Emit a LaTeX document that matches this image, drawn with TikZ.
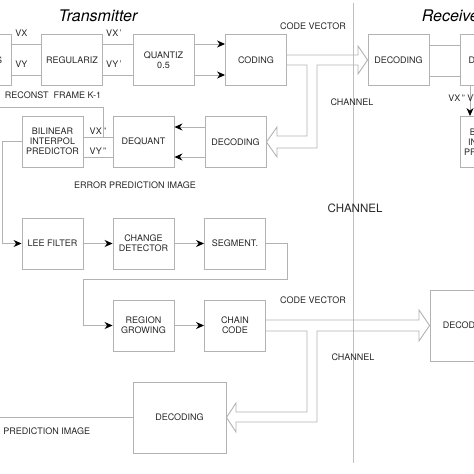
\documentclass[tikz,border=0pt]{standalone}
\usepackage{fontspec}
\setmainfont{TeX Gyre Heros}
\usetikzlibrary{arrows.meta}

\begin{document}
\begin{tikzpicture}[x=1pt,y=-1pt,line width=0.9pt,
  blk/.style={draw=black!30,minimum width=61pt,minimum height=51pt,inner sep=1pt,align=center,font=\fontsize{9}{10}\selectfont,text=black!85},
  bigblk/.style={blk,minimum width=93pt,minimum height=71pt},
  lbl/.style={font=\fontsize{9}{10}\selectfont,text=black!85,inner sep=0pt},
  wire/.style={draw=black!30},
  arr/.style={wire,-{Stealth[length=8pt,width=7pt,color=black]}}]
  \useasboundingbox (0,0) rectangle (474,474);
  % titulos y canal
  \node[font=\fontsize{16}{18}\selectfont\itshape] (ttx) at (98,16) {Transmitter};
  \node[font=\fontsize{16}{18}\selectfont\itshape,anchor=west] (trx) at (418,16) {Receiver};
  \draw[black!25,line width=0.7pt] (353,3) -- (353,463);
  \node[font=\fontsize{11.5}{13}\selectfont,text=black!85] (chan) at (355,208) {CHANNEL};
  % bloques del transmisor
  \node[blk] (vec) at (-19.5,60) {VECTORS};
  \node[blk] (reg) at (72,60) {REGULARIZ};
  \node[blk] (quant) at (163.5,60) {QUANTIZ\\0.5};
  \node[blk] (cod) at (256,60) {CODING};
  \node[blk] (bil) at (52.5,141.5) {BILINEAR\\INTERPOL\\PREDICTOR};
  \node[blk] (deq) at (143.5,141.5) {DEQUANT};
  \node[blk] (tdec) at (235.5,142) {DECODING};
  \node[blk] (lee) at (52.5,243.5) {LEE FILTER};
  \node[blk] (chg) at (143.5,243.5) {CHANGE\\DETECTOR};
  \node[blk] (seg) at (235,243.5) {SEGMENT.};
  \node[blk] (rgn) at (143.5,325.5) {REGION\\GROWING};
  \node[blk] (chn) at (235,325.5) {CHAIN\\CODE};
  \node[bigblk] (bdec) at (179.5,417.5) {DECODING};
  % bloques del receptor
  \node[blk] (rdec) at (398.5,60) {DECODING};
  \node[blk] (rdeq) at (490.5,60) {DEQUANT};
  \node[blk] (rbil) at (490.5,142) {BILINEAR\\INTERPOL\\PREDICTOR};
  \node[bigblk,minimum width=74pt] (rdec2) at (467,325.5) {DECODING};
  % vectores VX, VY
  \foreach \y/\a/\b in {44/VX/VX\,',75/VY/VY\,'} {
    \draw[wire] (vec.east |- 0,\y) -- (reg.west |- 0,\y);
    \draw[wire] (reg.east |- 0,\y) -- (quant.west |- 0,\y);
    \draw[arr] (quant.east |- 0,\y) -- (cod.west |- 0,\y);
    \draw[wire] (rdec.east |- 0,\y+1) -- (rdeq.west |- 0,\y+1);
    \node[lbl] at (21.5,\y-11) {\a};
    \node[lbl] at (114,\y-11) {\b};
  }
  \foreach \y/\a in {137/VX\,'',157/VY\,''}
    \draw[wire] (deq.west |- 0,\y) -- node[lbl,above=2pt] {\a} (bil.east |- 0,\y);
  \foreach \y in {127,157} \draw[arr] (tdec.west |- 0,\y) -- (deq.east |- 0,\y);
  \draw[arr] (rdeq.south -| 470,0) -- (rbil.north -| 470,0);
  \node[lbl] at (456.5,98) {VX\,''};
  \node[lbl,anchor=west] at (467,98) {VY\,''};
  % cuadro anterior
  \coordinate (kin) at (-10,107);
  \draw[wire] (kin) -- (103,107) -- (103,137);
  \node[lbl] at (53,95) {RECONST\ \ FRAME K-1};
  % prediccion y segmentacion
  \draw[arr] (bil.west) -- (2,141.5) -- (2,243.5) -- (lee.west);
  \node[lbl] at (135,185) {ERROR PREDICTION IMAGE};
  \draw[arr] (lee) -- (chg);
  \draw[arr] (chg) -- (seg);
  \draw[arr] (seg.east) -- (287,243.5) -- (287,279) -- (83,279) -- (83,325.5) -- (rgn.west);
  \draw[arr] (rgn) -- (chn);
  % flechas huecas del canal
  \draw[wire] (cod.east |- 0,55) -- (358,55) -- (358,46) -- (rdec.west) -- (358,74) -- (358,65)
    -- (317,65) -- (317,148) -- (277,148) -- (277,157) -- (tdec.east) -- (277,127) -- (277,136)
    -- (307,136) -- (307,65) -- (cod.east |- 0,65);
  \draw[wire] (chn.east |- 0,320) -- (419,320) -- (419,310) -- (rdec2.west) -- (419,341) -- (419,331)
    -- (317,331) -- (317,422) -- (236,422) -- (236,432) -- (bdec.east) -- (236,403) -- (236,412)
    -- (307,412) -- (307,331) -- (chn.east |- 0,331);
  \node[lbl] at (313,26) {CODE VECTOR};
  \node[lbl] at (313,300) {CODE VECTOR};
  \node[lbl] at (352,102) {CHANNEL};
  \node[lbl] at (353,357) {CHANNEL};
  % salida
  \coordinate (pout) at (-10,417.5);
  \draw[wire] (bdec.west) -- (pout);
  \node[lbl,anchor=west] at (3,431) {PREDICTION IMAGE};
\end{tikzpicture}
\end{document}
